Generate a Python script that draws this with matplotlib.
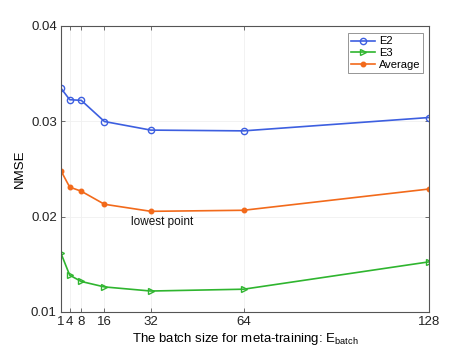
import matplotlib
matplotlib.use("Agg")
import matplotlib.pyplot as plt

plt.rcParams['font.family'] = ['Liberation Sans', 'DejaVu Sans']

batch = [1, 4, 8, 16, 32, 64, 128]
e2 = [0.03347, 0.03227, 0.0322, 0.02998, 0.02908, 0.0290, 0.0304]
e3 = [0.01615, 0.01386, 0.0132, 0.01263, 0.0122, 0.01239, 0.01526]
avg = [0.0248, 0.0231, 0.02267, 0.0213, 0.02056, 0.02067, 0.0229]
yticks = [0.01, 0.02, 0.03, 0.04]
ytick_labels = ['0.01', '0.02', '0.03', '0.04']

fig = plt.figure(figsize=(4.74, 3.55), dpi=100)
ax = fig.add_axes([61/474, 1-312/355, (429-61)/474, (312-26)/355])

blue = '#3d5fe0'
green = '#2fb52f'
orange = '#f26a1b'
ax.plot(batch, e2, color=blue, marker='o', mfc='none', ms=4.5, mew=1.0, lw=1.2, label='E2')
ax.plot(batch, e3, color=green, marker='>', mfc='none', ms=5, mew=1.0, lw=1.2, label='E3')
ax.plot(batch, avg, color=orange, marker='.', ms=6.5, lw=1.2, label='Average')

ax.set_xlim(1, 128)
ax.set_ylim(0.01, 0.04)
ax.set_xticks(batch)
ax.set_xticklabels([str(b) for b in batch])
ax.set_yticks(yticks)
ax.set_yticklabels(ytick_labels)
ax.grid(True, color='#f0f0f0', lw=0.6)
ax.set_axisbelow(True)
for s in ax.spines.values():
    s.set_color('#555555')
    s.set_linewidth(0.8)
ax.tick_params(direction='in', top=True, right=True, labelsize=9.5, length=3, width=0.6, pad=3)
ax.tick_params(axis='x', colors='#555555', labelcolor='#222222')
ax.tick_params(axis='y', colors='#555555', labelcolor='#222222')

ax.text(25.2, 0.01944, 'lowest point', fontsize=8.5, va='center', ha='left', color='#111111')
ax.set_xlabel('The batch size for meta-training: E$_{\\mathregular{batch}}$', fontsize=9.5, labelpad=2)
ax.set_ylabel('NMSE', fontsize=9.5, labelpad=4)

leg = ax.legend(loc='upper right', fontsize=8, frameon=True, fancybox=False, edgecolor='#666666',
                borderpad=0.3, labelspacing=0.15, handlelength=2.2, handletextpad=0.3,
                bbox_to_anchor=(0.985, 0.975), borderaxespad=0)
leg.get_frame().set_linewidth(0.6)

fig.savefig('out.png', dpi=100)
